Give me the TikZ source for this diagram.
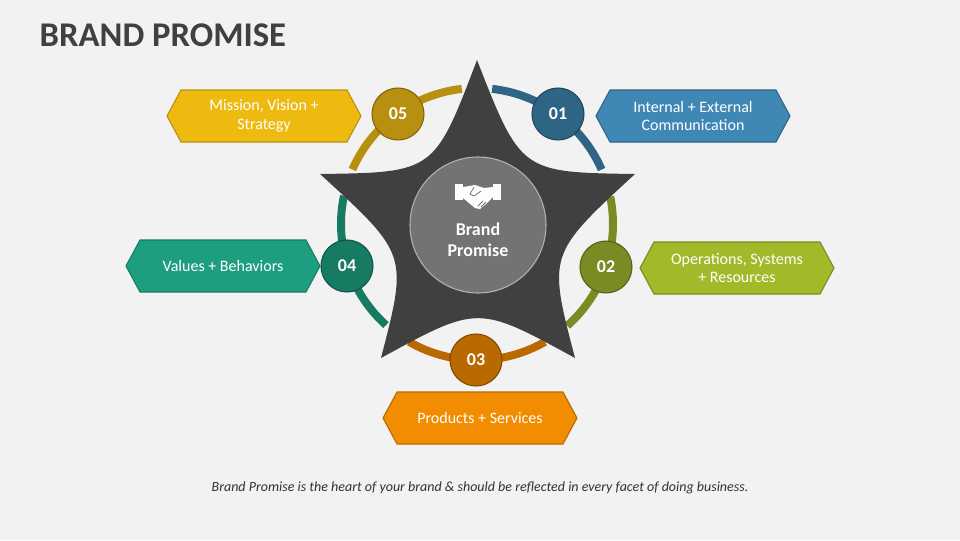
\documentclass[tikz,border=0pt]{standalone}
\usepackage{fontspec}
\setmainfont{Carlito}
\usetikzlibrary{calc}
\begin{document}
\begin{tikzpicture}[x=0.75pt,y=-0.75pt,
  lbl/.style={font=\fontsize{12}{14}\selectfont\color{white},align=center},
  num/.style={circle,minimum size=39pt,draw=#1!70!black,line width=0.8pt,fill=#1,text=white,font=\bfseries\fontsize{13.5}{15}\selectfont}]
\definecolor{bg}{HTML}{F2F2F2}
\definecolor{cA}{HTML}{3F87B5}\definecolor{dA}{HTML}{2E6484}
\definecolor{cB}{HTML}{A2B92A}\definecolor{dB}{HTML}{7B8A23}
\definecolor{cC}{HTML}{F28C00}\definecolor{dC}{HTML}{B86A00}
\definecolor{cD}{HTML}{1E9E80}\definecolor{dD}{HTML}{177A63}
\definecolor{cE}{HTML}{EEBA10}\definecolor{dE}{HTML}{B8900F}
\fill[bg] (0,0) rectangle (960,540);
\useasboundingbox (0,0) rectangle (960,540);
\node[anchor=west,font=\bfseries\fontsize{26}{28}\selectfont,text=black!75] (title) at (35,35) {BRAND PROMISE};
\coordinate (rc) at (477,224);
\foreach \a/\c in {53.6/dA,-18.4/dB,-90/dC,198/dD,126.4/dE}{
  \draw[\c,line width=6pt] ($(rc)+({cos(\a-30)*136},{-sin(\a-30)*136})$) arc[start angle=-(\a-30),end angle=-(\a+30),radius=136];
}
\coordinate (C) at (478,240);
\coordinate (T0) at (477,60);
\coordinate (T1) at (635,174);
\coordinate (T2) at (575,358);
\coordinate (T3) at (381,358);
\coordinate (T4) at (320,174);
\foreach \i/\j in {0/1,1/2,2/3,3/4,4/0}{
  \coordinate (I\i) at ($(C)!0.55!($(T\i)!0.5!(T\j)$)$);
}
\fill[black!75] (T0) .. controls (I0) and (I0) .. (T1) .. controls (I1) and (I1) .. (T2) .. controls (I2) and (I2) .. (T3) .. controls (I3) and (I3) .. (T4) .. controls (I4) and (I4) .. cycle;
\node[circle,minimum size=102pt,fill=black!55,draw=black!30,line width=0.8pt] (hub) at (478,225) {};
\node[font=\bfseries\fontsize{13.5}{16}\selectfont,text=white,align=center] (hubt) at (478,240) {Brand\\Promise};
\begin{scope}[shift={(478,196)},white]
 \fill (-23,-12) rectangle (-15,4);
 \fill (15,-12) rectangle (23,4);
 \fill (-15,-9) -- (-3,-11) -- (6,-8) -- (15,-9) -- (15,1) -- (8,8) -- (2,13) -- (-3,12) -- (-15,2) -- cycle;
 \draw[black!55,line width=0.6pt] (-4,-9) -- (-8,-2) -- (-4,0) -- (3,-5) (0,10) -- (5,5) (3,11) -- (8,6);
\end{scope}
\node[num=dA] (n1) at (558,114) {01};
\node[num=dB] (n2) at (606,267) {02};
\node[num=dC] (n3) at (476,360) {03};
\node[num=dD] (n4) at (347,266) {04};
\node[num=dE] (n5) at (398,114) {05};
\newcommand{\hexlbl}[6]{%
 \filldraw[fill=#5,draw=#6,line width=0.8pt] (#1,#2) -- ++(14,-26) -- ++(166,0) -- ++(14,26) -- ++(-14,26) -- ++(-166,0) -- cycle;
 \node[lbl] (#3) at ($(#1,#2)+(97,0)$) {#4};}
\hexlbl{596}{116}{l1}{Internal + External\\Communication}{cA}{dA}
\hexlbl{640}{268}{l2}{Operations, Systems\\+ Resources}{cB}{dB}
\hexlbl{383}{418}{l3}{Products + Services}{cC}{dC}
\hexlbl{126}{266}{l4}{Values + Behaviors}{cD}{dD}
\hexlbl{167}{116}{l5}{Mission, Vision +\\Strategy}{cE}{dE}
\node[font=\itshape\fontsize{10.5}{12}\selectfont,text=black!80] (cap) at (480,488) {Brand Promise is the heart of your brand \& should be reflected in every facet of doing business.};
\end{tikzpicture}
\end{document}
